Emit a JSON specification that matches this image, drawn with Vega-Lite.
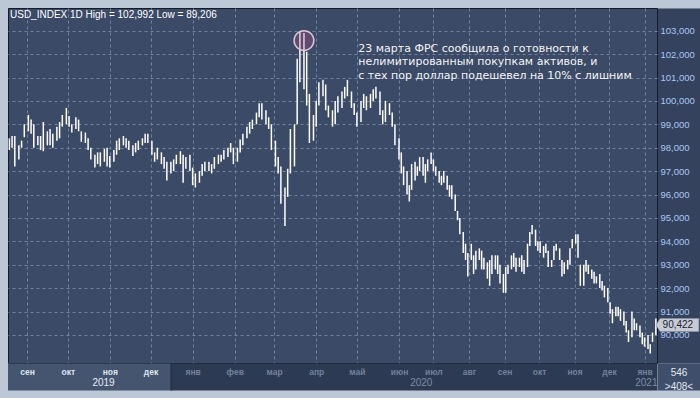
{
  "$schema": "https://vega.github.io/schema/vega-lite/v6.json",
  "width": 649,
  "height": 355,
  "autosize": {"type": "none"},
  "padding": {"left": 8, "top": 8, "right": 43, "bottom": 35},
  "background": "#bdc8d6",
  "title": {
    "text": "USD_INDEX 1D High = 102,992 Low = 89,206",
    "anchor": "start", "frame": "group", "orient": "top",
    "baseline": "top", "offset": 0, "dy": 33.5, "dx": 2,
    "font": "Liberation Sans", "fontSize": 10, "fontWeight": "normal", "color": "#ffffff"
  },
  "datasets": {
    "bars": [
      {"d":"2019-08-19","h":98.4,"l":97.9},{"d":"2019-08-21","h":98.5,"l":98.0},{"d":"2019-08-23","h":98.5,"l":97.2},
      {"d":"2019-08-26","h":98.1,"l":97.5},{"d":"2019-08-28","h":98.3,"l":98.0},{"d":"2019-08-30","h":99.0,"l":98.45},
      {"d":"2019-09-02","h":99.4,"l":98.7},{"d":"2019-09-04","h":99.2,"l":98.6},{"d":"2019-09-06","h":99.0,"l":98.0},
      {"d":"2019-09-09","h":98.5,"l":98.1},{"d":"2019-09-11","h":98.5,"l":97.9},{"d":"2019-09-13","h":99.1,"l":97.85},
      {"d":"2019-09-16","h":98.7,"l":98.1},{"d":"2019-09-18","h":98.8,"l":98.1},{"d":"2019-09-20","h":98.6,"l":98.0},
      {"d":"2019-09-23","h":98.9,"l":98.3},{"d":"2019-09-25","h":99.1,"l":98.4},{"d":"2019-09-27","h":99.4,"l":98.9},
      {"d":"2019-09-30","h":99.7,"l":99.0},{"d":"2019-10-02","h":99.35,"l":98.9},{"d":"2019-10-04","h":99.0,"l":98.65},
      {"d":"2019-10-07","h":99.3,"l":98.8},{"d":"2019-10-09","h":99.2,"l":98.7},{"d":"2019-10-11","h":98.7,"l":98.25},
      {"d":"2019-10-14","h":98.65,"l":98.2},{"d":"2019-10-16","h":98.4,"l":97.9},{"d":"2019-10-18","h":98.0,"l":97.5},
      {"d":"2019-10-21","h":97.7,"l":97.15},{"d":"2019-10-23","h":97.8,"l":97.3},{"d":"2019-10-25","h":97.8,"l":97.2},
      {"d":"2019-10-28","h":97.95,"l":97.4},{"d":"2019-10-30","h":98.0,"l":97.2},{"d":"2019-11-01","h":97.65,"l":97.15},
      {"d":"2019-11-04","h":97.9,"l":97.4},{"d":"2019-11-06","h":98.3,"l":97.7},{"d":"2019-11-08","h":98.4,"l":97.9},
      {"d":"2019-11-11","h":98.5,"l":98.1},{"d":"2019-11-13","h":98.4,"l":98.0},{"d":"2019-11-15","h":98.3,"l":97.9},
      {"d":"2019-11-18","h":98.1,"l":97.65},{"d":"2019-11-20","h":98.2,"l":97.8},{"d":"2019-11-22","h":98.3,"l":97.9},
      {"d":"2019-11-25","h":98.4,"l":98.1},{"d":"2019-11-27","h":98.6,"l":98.2},{"d":"2019-11-29","h":98.6,"l":98.2},
      {"d":"2019-12-02","h":98.3,"l":97.7},{"d":"2019-12-04","h":97.8,"l":97.4},{"d":"2019-12-06","h":98.0,"l":97.5},
      {"d":"2019-12-09","h":97.8,"l":97.3},{"d":"2019-12-11","h":97.6,"l":97.1},{"d":"2019-12-13","h":97.4,"l":96.6},
      {"d":"2019-12-16","h":97.4,"l":96.9},{"d":"2019-12-18","h":97.5,"l":97.0},{"d":"2019-12-20","h":97.7,"l":97.3},
      {"d":"2019-12-23","h":97.85,"l":97.3},{"d":"2019-12-25","h":97.7,"l":96.5},{"d":"2019-12-27","h":97.6,"l":97.1},
      {"d":"2019-12-30","h":97.7,"l":97.0},{"d":"2020-01-01","h":97.15,"l":96.4},{"d":"2020-01-03","h":96.9,"l":96.3},
      {"d":"2020-01-06","h":97.0,"l":96.5},{"d":"2020-01-08","h":97.3,"l":96.8},{"d":"2020-01-10","h":97.4,"l":97.0},
      {"d":"2020-01-13","h":97.4,"l":97.0},{"d":"2020-01-15","h":97.3,"l":96.9},{"d":"2020-01-17","h":97.6,"l":97.1},
      {"d":"2020-01-20","h":97.7,"l":97.3},{"d":"2020-01-22","h":97.7,"l":97.4},{"d":"2020-01-24","h":97.9,"l":97.5},
      {"d":"2020-01-27","h":98.0,"l":97.6},{"d":"2020-01-29","h":98.2,"l":97.8},{"d":"2020-01-31","h":98.0,"l":97.3},
      {"d":"2020-02-03","h":98.0,"l":97.4},{"d":"2020-02-05","h":98.35,"l":97.8},{"d":"2020-02-07","h":98.6,"l":98.1},
      {"d":"2020-02-10","h":98.9,"l":98.4},{"d":"2020-02-12","h":99.1,"l":98.6},{"d":"2020-02-14","h":99.2,"l":98.8},
      {"d":"2020-02-17","h":99.5,"l":99.0},{"d":"2020-02-19","h":99.9,"l":99.3},{"d":"2020-02-21","h":99.9,"l":99.2},
      {"d":"2020-02-24","h":99.6,"l":99.0},{"d":"2020-02-26","h":99.3,"l":98.8},{"d":"2020-02-28","h":99.0,"l":97.9},
      {"d":"2020-03-02","h":98.3,"l":97.2},{"d":"2020-03-04","h":97.6,"l":96.9},{"d":"2020-03-06","h":97.2,"l":95.6},
      {"d":"2020-03-09","h":96.3,"l":94.65},{"d":"2020-03-11","h":97.1,"l":95.9},{"d":"2020-03-13","h":98.8,"l":96.9},
      {"d":"2020-03-16","h":99.0,"l":97.2},{"d":"2020-03-18","h":101.8,"l":99.0},{"d":"2020-03-20","h":102.99,"l":100.8},
      {"d":"2020-03-23","h":102.9,"l":100.5},{"d":"2020-03-25","h":102.1,"l":99.8},{"d":"2020-03-27","h":100.3,"l":98.2},
      {"d":"2020-03-30","h":99.4,"l":98.3},{"d":"2020-04-01","h":100.0,"l":98.9},{"d":"2020-04-03","h":100.8,"l":99.8},
      {"d":"2020-04-06","h":100.9,"l":100.2},{"d":"2020-04-08","h":100.7,"l":99.6},{"d":"2020-04-10","h":99.8,"l":99.3},
      {"d":"2020-04-13","h":99.6,"l":98.9},{"d":"2020-04-15","h":100.0,"l":99.0},{"d":"2020-04-17","h":100.2,"l":99.5},
      {"d":"2020-04-20","h":100.4,"l":99.7},{"d":"2020-04-22","h":100.6,"l":100.1},{"d":"2020-04-24","h":100.9,"l":100.2},
      {"d":"2020-04-27","h":100.4,"l":99.7},{"d":"2020-04-29","h":99.9,"l":99.4},{"d":"2020-05-01","h":99.5,"l":98.9},
      {"d":"2020-05-04","h":100.0,"l":99.1},{"d":"2020-05-06","h":100.3,"l":99.7},{"d":"2020-05-08","h":100.2,"l":99.6},
      {"d":"2020-05-11","h":100.3,"l":99.7},{"d":"2020-05-13","h":100.5,"l":100.0},{"d":"2020-05-15","h":100.6,"l":100.1},
      {"d":"2020-05-18","h":100.4,"l":99.4},{"d":"2020-05-20","h":99.6,"l":99.0},{"d":"2020-05-22","h":100.0,"l":99.1},
      {"d":"2020-05-25","h":99.9,"l":99.4},{"d":"2020-05-27","h":99.5,"l":98.9},{"d":"2020-05-29","h":99.0,"l":98.1},
      {"d":"2020-06-01","h":98.4,"l":97.5},{"d":"2020-06-03","h":97.8,"l":96.9},{"d":"2020-06-05","h":97.2,"l":96.4},
      {"d":"2020-06-08","h":97.0,"l":96.0},{"d":"2020-06-10","h":96.4,"l":95.7},{"d":"2020-06-12","h":97.3,"l":96.2},
      {"d":"2020-06-15","h":97.4,"l":96.6},{"d":"2020-06-17","h":97.2,"l":96.8},{"d":"2020-06-19","h":97.6,"l":97.0},
      {"d":"2020-06-22","h":97.6,"l":96.8},{"d":"2020-06-24","h":97.3,"l":96.5},{"d":"2020-06-26","h":97.5,"l":97.0},
      {"d":"2020-06-29","h":97.8,"l":97.3},{"d":"2020-07-01","h":97.5,"l":97.0},{"d":"2020-07-03","h":97.2,"l":96.8},
      {"d":"2020-07-06","h":97.0,"l":96.5},{"d":"2020-07-08","h":96.8,"l":96.4},{"d":"2020-07-10","h":97.0,"l":96.5},
      {"d":"2020-07-13","h":96.8,"l":96.2},{"d":"2020-07-15","h":96.4,"l":95.9},{"d":"2020-07-17","h":96.4,"l":95.8},
      {"d":"2020-07-20","h":96.0,"l":95.3},{"d":"2020-07-22","h":95.3,"l":94.9},{"d":"2020-07-24","h":95.0,"l":94.3},
      {"d":"2020-07-27","h":94.4,"l":93.5},{"d":"2020-07-29","h":93.9,"l":93.2},{"d":"2020-07-31","h":93.5,"l":92.5},
      {"d":"2020-08-03","h":93.9,"l":93.2},{"d":"2020-08-05","h":93.4,"l":92.6},{"d":"2020-08-07","h":93.6,"l":92.8},
      {"d":"2020-08-10","h":93.7,"l":93.2},{"d":"2020-08-12","h":93.6,"l":92.8},{"d":"2020-08-14","h":93.3,"l":92.8},
      {"d":"2020-08-17","h":93.1,"l":92.4},{"d":"2020-08-19","h":93.2,"l":92.1},{"d":"2020-08-21","h":93.4,"l":92.6},
      {"d":"2020-08-24","h":93.4,"l":92.8},{"d":"2020-08-26","h":93.4,"l":92.6},{"d":"2020-08-28","h":93.0,"l":92.2},
      {"d":"2020-08-31","h":92.6,"l":91.8},{"d":"2020-09-02","h":92.9,"l":91.8},{"d":"2020-09-04","h":93.0,"l":92.6},
      {"d":"2020-09-07","h":93.4,"l":92.8},{"d":"2020-09-09","h":93.5,"l":92.9},{"d":"2020-09-11","h":93.3,"l":92.7},
      {"d":"2020-09-14","h":93.3,"l":92.9},{"d":"2020-09-16","h":93.4,"l":92.7},{"d":"2020-09-18","h":93.2,"l":92.6},
      {"d":"2020-09-21","h":93.9,"l":92.9},{"d":"2020-09-23","h":94.4,"l":93.8},{"d":"2020-09-25","h":94.7,"l":94.3},
      {"d":"2020-09-28","h":94.5,"l":93.8},{"d":"2020-09-30","h":94.0,"l":93.6},{"d":"2020-10-02","h":94.0,"l":93.5},
      {"d":"2020-10-05","h":93.8,"l":93.3},{"d":"2020-10-07","h":93.9,"l":93.5},{"d":"2020-10-09","h":93.6,"l":92.9},
      {"d":"2020-10-12","h":93.2,"l":92.9},{"d":"2020-10-14","h":93.8,"l":93.2},{"d":"2020-10-16","h":93.9,"l":93.6},
      {"d":"2020-10-19","h":93.7,"l":93.2},{"d":"2020-10-21","h":93.2,"l":92.5},{"d":"2020-10-23","h":93.1,"l":92.6},
      {"d":"2020-10-26","h":93.2,"l":92.8},{"d":"2020-10-28","h":93.7,"l":93.0},{"d":"2020-10-30","h":94.1,"l":93.7},
      {"d":"2020-11-02","h":94.3,"l":93.9},{"d":"2020-11-04","h":94.3,"l":93.3},{"d":"2020-11-06","h":93.0,"l":92.1},
      {"d":"2020-11-09","h":93.0,"l":92.1},{"d":"2020-11-11","h":93.2,"l":92.7},{"d":"2020-11-13","h":93.0,"l":92.6},
      {"d":"2020-11-16","h":92.8,"l":92.4},{"d":"2020-11-18","h":92.7,"l":92.2},{"d":"2020-11-20","h":92.5,"l":92.2},
      {"d":"2020-11-23","h":92.6,"l":92.0},{"d":"2020-11-25","h":92.3,"l":91.9},{"d":"2020-11-27","h":92.1,"l":91.6},
      {"d":"2020-11-30","h":92.0,"l":91.4},{"d":"2020-12-02","h":91.4,"l":90.9},{"d":"2020-12-04","h":91.1,"l":90.5},
      {"d":"2020-12-07","h":91.2,"l":90.8},{"d":"2020-12-09","h":91.2,"l":90.8},{"d":"2020-12-11","h":91.1,"l":90.6},
      {"d":"2020-12-14","h":91.0,"l":90.4},{"d":"2020-12-16","h":90.6,"l":90.1},{"d":"2020-12-18","h":90.2,"l":89.7},
      {"d":"2020-12-21","h":91.0,"l":89.9},{"d":"2020-12-23","h":90.7,"l":90.2},{"d":"2020-12-25","h":90.5,"l":90.2},
      {"d":"2020-12-28","h":90.4,"l":89.9},{"d":"2020-12-30","h":90.1,"l":89.6},{"d":"2021-01-01","h":89.9,"l":89.5},
      {"d":"2021-01-04","h":90.0,"l":89.4},{"d":"2021-01-06","h":89.6,"l":89.21},{"d":"2021-01-08","h":90.1,"l":89.7},
      {"d":"2021-01-11","h":90.7,"l":90.0}
    ],
    "peak": [{"d":"2020-03-23","v":102.58}],
    "note": [{"d":"2020-05-02","v":102.23,"t":"23 марта ФРС сообщила о готовности к\nнелимитированным покупкам активов, и\nс тех пор доллар подешевел на 10% с лишним"}],
    "last": [{"d":"2021-01-11","v":90.422,"t":"90,422"}]
  },
  "resolve": {"axis": {"x": "independent", "y": "independent"}},
  "layer": [
    {
      "data": {"name": "bars"},
      "mark": {"type": "rule", "color": "#ffffff", "strokeWidth": 1.5},
      "encoding": {
        "x": {"field": "d", "type": "temporal",
          "scale": {"type": "time", "nice": false,
            "domain": [{"year":2019,"month":8,"date":18},{"year":2021,"month":1,"date":12}],
            "domainRaw": {"expr": "[datetime(2019,7,18), datetime(2020,5,1), datetime(2021,0,4), datetime(2021,0,12)]"},
            "range": [0, 391, 640, 649]},
          "axis": {"orient": "bottom", "title": null, "labels": false, "domain": false, "grid": false, "ticks": true,
            "values": [{"year":2019,"month":10,"date":17},{"year":2020,"month":6,"date":14},{"year":2019,"month":12,"date":16}],
            "tickSize": 27,
            "tickWidth": {"condition": [{"test": "datum.value > datetime(2020,0,1)", "value": 486}, {"test": "datum.value < datetime(2019,11,1)", "value": 163}], "value": 2},
            "tickColor": {"condition": [{"test": "datum.value > datetime(2020,0,1)", "value": "#2d3a53"}, {"test": "datum.value < datetime(2019,11,1)", "value": "#45546f"}], "value": "#1f293b"},
            "tickOpacity": 1}
        },
        "y": {"field": "l", "type": "quantitative",
          "scale": {"domain": [88.8, 103.97], "nice": false, "zero": false},
          "axis": {"orient": "right", "title": null, "labels": false, "domain": false, "ticks": false,
            "values": [90, 91, 92, 93, 94, 95, 96, 97, 98, 99, 100, 101, 102, 103],
            "grid": true, "gridColor": "#7183a0", "gridDash": [3, 3], "gridWidth": 1, "gridOpacity": 1}
        },
        "y2": {"field": "h"}
      }
    },
    {
      "data": {"name": "last"},
      "mark": {"type": "point", "shape": "M 0 0 L 0.1 -0.15 L 1 -0.15 L 1 0.15 L 0.1 0.15 Z", "size": 7396,
        "filled": true, "fill": "#c7ccd4", "stroke": "#8d96a4", "strokeWidth": 0.6, "opacity": 1},
      "encoding": {
        "x": {"field": "d", "type": "temporal",
          "scale": {"type": "time", "nice": false,
            "domain": [{"year":2019,"month":8,"date":18},{"year":2021,"month":1,"date":12}],
            "domainRaw": {"expr": "[datetime(2019,7,18), datetime(2020,5,1), datetime(2021,0,4), datetime(2021,0,12)]"},
            "range": [0, 391, 640, 649]},
          "axis": {"orient": "bottom", "title": null, "labels": false, "domain": false, "grid": false, "ticks": true,
            "values": [{"year":2021,"month":1,"date":12}],
            "tickSize": -355, "tickWidth": 43, "tickOffset": 21.5, "tickColor": "#34425d", "tickOpacity": 1}
        },
        "y": {"field": "v", "type": "quantitative", "scale": {"domain": [88.8, 103.97], "nice": false, "zero": false}, "axis": null}
      }
    },
    {
      "data": {"name": "last"},
      "mark": {"type": "text", "align": "center", "baseline": "middle", "dx": 22, "font": "Liberation Sans", "fontSize": 10, "color": "#1a2233"},
      "encoding": {
        "x": {"field": "d", "type": "temporal",
          "scale": {"type": "time", "nice": false,
            "domain": [{"year":2019,"month":8,"date":18},{"year":2021,"month":1,"date":12}],
            "domainRaw": {"expr": "[datetime(2019,7,18), datetime(2020,5,1), datetime(2021,0,4), datetime(2021,0,12)]"},
            "range": [0, 391, 640, 649]},
          "axis": {"orient": "bottom", "title": null, "labels": false, "domain": false, "grid": false, "ticks": true,
            "values": [{"year":2021,"month":1,"date":12}],
            "tickSize": 27, "tickWidth": 43, "tickOffset": 21.5, "tickColor": "#3f4e6a", "tickOpacity": 1}
        },
        "y": {"field": "v", "type": "quantitative", "scale": {"domain": [88.8, 103.97], "nice": false, "zero": false}, "axis": null},
        "text": {"field": "t"}
      }
    },
    {
      "data": {"name": "peak"},
      "mark": {"type": "point", "shape": "circle", "size": 390, "filled": true, "fill": "#b4508c", "fillOpacity": 0.3, "stroke": "#dac6d0", "strokeWidth": 1.5, "strokeOpacity": 1},
      "encoding": {
        "x": {"field": "d", "type": "temporal",
          "scale": {"type": "time", "nice": false,
            "domain": [{"year":2019,"month":8,"date":18},{"year":2021,"month":1,"date":12}],
            "domainRaw": {"expr": "[datetime(2019,7,18), datetime(2020,5,1), datetime(2021,0,4), datetime(2021,0,12)]"},
            "range": [0, 391, 640, 649]},
          "axis": {"orient": "bottom", "title": null, "domain": false, "ticks": false,
            "tickCount": {"interval": "month", "step": 1},
            "grid": true, "gridColor": "#7183a0", "gridDash": [3, 3], "gridWidth": 1, "gridOpacity": 1,
            "labelExpr": "['янв','фев','мар','апр','май','июн','июл','авг','сен','окт','ноя','дек'][month(datum.value)]",
            "labelFont": "Liberation Sans", "labelFontSize": 8.5, "labelFontWeight": "bold",
            "labelColor": {"condition": {"test": "datum.value < datetime(2020,0,1)", "value": "#dde4ee"}, "value": "#72819b"},
            "labelPadding": 4, "labelOverlap": false, "labelBound": false, "labelFlush": false, "labelBaseline": "top"}
        },
        "y": {"field": "v", "type": "quantitative",
          "scale": {"domain": [88.8, 103.97], "nice": false, "zero": false},
          "axis": {"orient": "right", "domain": false, "ticks": false, "grid": false, "zindex": 1,
            "values": [90, 91, 92, 93, 94, 95, 96, 97, 98, 99, 100, 101, 102, 103],
            "labelExpr": "replace(format(datum.value, '.3f'), '.', ',')",
            "labelFont": "Liberation Sans", "labelFontSize": 9.5, "labelColor": "#a9c7f5",
            "labelPadding": 3, "labelOverlap": false, "labelBound": false, "labelFlush": false,
            "title": ["546", ">408<"], "titleAngle": 0, "titleX": 21.5, "titleY": 364,
            "titleAlign": "center", "titleBaseline": "middle", "titleColor": "#e2e8f0",
            "titleFont": "Liberation Sans", "titleFontSize": 10, "titleFontWeight": "normal", "titleLineHeight": 14}
        }
      }
    },
    {
      "data": {"name": "note"},
      "mark": {"type": "text", "align": "left", "baseline": "middle", "lineBreak": "\n", "lineHeight": 13.5,
        "font": "DejaVu Sans", "fontSize": 11, "color": "#f4f4f4"},
      "encoding": {
        "x": {"field": "d", "type": "temporal",
          "scale": {"type": "time", "nice": false,
            "domain": [{"year":2019,"month":8,"date":18},{"year":2021,"month":1,"date":12}],
            "domainRaw": {"expr": "[datetime(2019,7,18), datetime(2020,5,1), datetime(2021,0,4), datetime(2021,0,12)]"},
            "range": [0, 391, 640, 649]},
          "axis": {"orient": "bottom", "title": null, "domain": false, "ticks": false, "grid": false, "zindex": 1,
            "values": [{"year":2019,"month":10,"date":27},{"year":2020,"month":6,"date":20},{"year":2021,"month":1,"date":12}],
            "labelExpr": "timeFormat(datum.value, '%Y')",
            "labelFont": "Liberation Sans", "labelFontSize": 10,
            "labelColor": {"condition": {"test": "datum.value < datetime(2020,0,1)", "value": "#e6ecf4"}, "value": "#7d8ca6"},
            "labelAlign": {"condition": {"test": "datum.value > datetime(2021,0,1)", "value": "right"}, "value": "center"},
            "labelPadding": 14, "labelOverlap": false, "labelBound": false, "labelFlush": false, "labelBaseline": "top"}
        },
        "y": {"field": "v", "type": "quantitative", "scale": {"domain": [88.8, 103.97], "nice": false, "zero": false}, "axis": null},
        "text": {"field": "t"}
      }
    }
  ],
  "config": {
    "view": {"fill": "#3b4a67", "stroke": "#151b27", "strokeWidth": 1},
    "axis": {"tickCap": "butt"}
  }
}
